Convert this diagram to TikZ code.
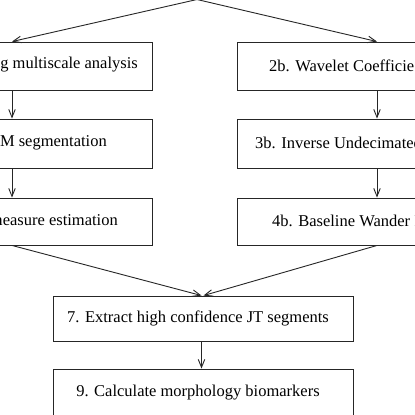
\documentclass[tikz,border=0pt]{standalone}
\usepackage{fontspec}
\setmainfont{Liberation Serif}
\usetikzlibrary{arrows.meta}
\begin{document}
\begin{tikzpicture}[x=1pt,y=-1pt,
  stepbox/.style={draw=black!85,line width=0.9pt,rectangle,minimum width=300pt,inner sep=0pt},
  sidebox/.style={draw=black!85,line width=0.9pt,rectangle,minimum width=280pt,inner sep=0pt},
  lbl/.style={inner sep=0pt,font=\fontsize{16.5}{20}\selectfont,text=black},
  conn/.style={draw=black!85,line width=0.9pt,-{Straight Barb[length=8pt,width=6.5pt]}}]
\useasboundingbox (0,0) rectangle (415,415);
\clip (0,0) rectangle (415,415);
\fill[white] (0,0) rectangle (415,415);
% left column boxes
\node[sidebox,minimum height=48pt] (L1) at (12,66) {};
\node[sidebox,minimum height=49pt] (L2) at (12,143.5) {};
\node[sidebox,minimum height=47pt] (L3) at (12,221.5) {};
% right column boxes
\node[sidebox,minimum height=48pt] (R1) at (377,66) {};
\node[sidebox,minimum height=49pt] (R2) at (377,143.5) {};
\node[sidebox,minimum height=47pt] (R3) at (377,221.5) {};
% bottom boxes
\node[stepbox,minimum height=45pt] (B7) at (203,318.5) {};
\node[stepbox,minimum height=48pt] (B9) at (203,393) {};
% labels
\node[lbl,anchor=east] (t1) at (138,65) {ng multiscale analysis};
\node[lbl,anchor=east] (t2) at (107,142.5) {M segmentation};
\node[lbl,anchor=east] (t3) at (118,220.5) {measure estimation};
\node[lbl,anchor=west] (t4) at (269,66) {2b. Wavelet Coefficie};
\node[lbl,anchor=west] (t5) at (255,143) {3b. Inverse Undecimated};
\node[lbl,anchor=west] (t6) at (272,221) {4b. Baseline Wander R};
\node[lbl] (t7) at (198,318.5) {7. Extract high confidence JT segments};
\node[lbl] (t9) at (198,393) {9. Calculate morphology biomarkers};
% connectors
\coordinate (top) at (197,-0.5);
\draw[conn] (top) -- (L1.north);
\draw[conn] (top) -- (R1.north);
\draw[conn] (L1) -- (L2);
\draw[conn] (L2) -- (L3);
\draw[conn] (R1) -- (R2);
\draw[conn] (R2) -- (R3);
\draw[conn] (L3.south) -- ([xshift=-1.5pt]B7.north);
\draw[conn] (R3.south) -- ([xshift=0.5pt]B7.north);
\draw[conn] ([xshift=-1.5pt]B7.south) -- ([xshift=-1.5pt]B9.north);
\end{tikzpicture}
\end{document}
